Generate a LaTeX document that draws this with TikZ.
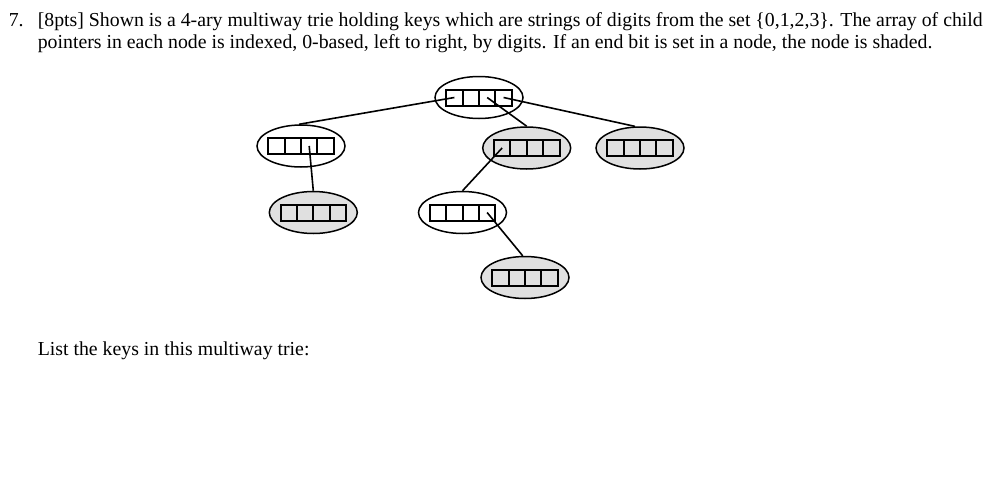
\documentclass[tikz,border=0pt]{standalone}
\usepackage{fontspec}
\setmainfont{Liberation Serif}
\usetikzlibrary{calc,shapes.geometric}
\definecolor{endbit}{gray}{0.88}

% one trie node: name, x, y, fill colour
\newcommand{\trie}[4]{%
  \node[trienode,fill=#4] (#1) at (#2,#3) {};
  \foreach \i in {0,...,3}
    \node[slot] (#1-\i) at ($(#1)+(-24.6+16.4*\i,0)$) {};
}

\begin{document}
\begin{tikzpicture}[x=1pt,y=-1pt,line width=1.6pt,
  trienode/.style={ellipse,draw,line width=1.5pt,minimum width=88pt,minimum height=42pt,inner sep=0pt},
  slot/.style={rectangle,draw,line width=2pt,minimum width=16.4pt,minimum height=16pt,inner sep=0pt}]
\useasboundingbox (0,0) rectangle (996,498);

% the question text
\node[anchor=base west,inner sep=0pt] (num) at (8,26.7) {\fontsize{19.8}{21.7}\selectfont 7.};
\node[anchor=base west,inner sep=0pt] (line1) at (37,26.7) {\fontsize{19.8}{21.7}\selectfont [8pts] Shown is a 4-ary multiway trie holding keys which are strings of digits from the set \{0,1,2,3\}. The array of child};
\node[anchor=base west,inner sep=0pt] (line2) at (37,48.3) {\fontsize{19.8}{21.7}\selectfont pointers in each node is indexed, 0-based, left to right, by digits. If an end bit is set in a node, the node is shaded.};
\node[anchor=base west,inner sep=0pt] (ask) at (37,355) {\fontsize{19.8}{21.7}\selectfont List the keys in this multiway trie:};

% the nodes of the trie
\trie{root}{479}{97.5}{white}
\trie{left}{301}{146}{white}
\trie{mid}{526.7}{148}{endbit}
\trie{right}{640}{148}{endbit}
\trie{bl}{313.3}{212.5}{endbit}
\trie{ml}{462.5}{212.5}{white}
\trie{low}{525}{277.5}{endbit}

% child pointers
\draw (root-0.center) -- (left.95);
\draw (root-2.center) -- (mid.north);
\draw (root-3.center) -- (right.103);
\draw (left-2.center) -- (bl.north);
\draw (mid-0.center) -- (ml.north);
\draw (ml-3.center) -- (low.96);
\end{tikzpicture}
\end{document}
